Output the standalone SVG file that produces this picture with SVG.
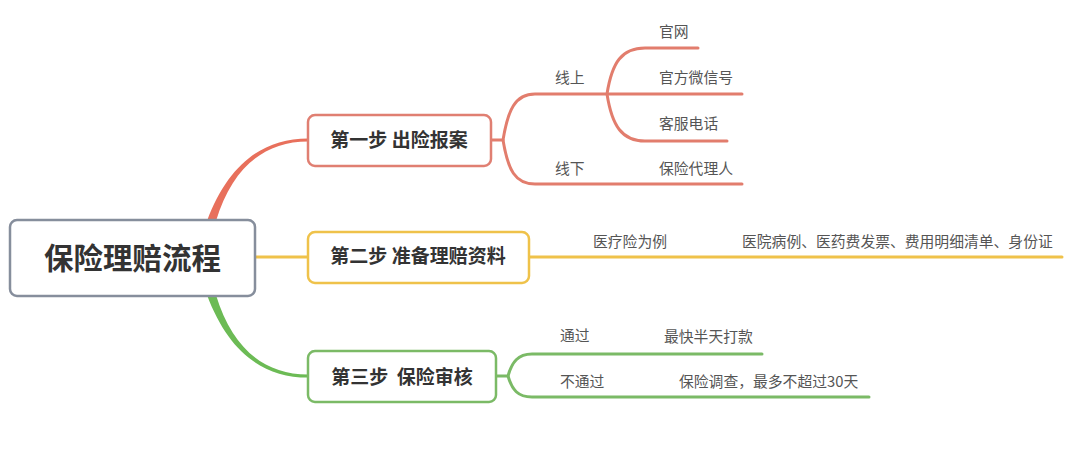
<svg xmlns="http://www.w3.org/2000/svg" width="1080" height="451" viewBox="0 0 1080 451">
<style>
.t{font-family:"Noto Sans CJK SC","Noto Sans",sans-serif;}
.root{font-size:29.5px;font-weight:bold;fill:#333;text-anchor:middle;}
.step{font-size:19px;font-weight:bold;fill:#333;text-anchor:middle;}
.lab{font-size:14.8px;fill:#555;}
.r{stroke:#e27d6d;fill:none;stroke-width:3;stroke-linecap:round;}
.y{stroke:#efc24a;fill:none;stroke-width:3;stroke-linecap:round;}
.g{stroke:#7bba66;fill:none;stroke-width:3;stroke-linecap:round;}
</style>
<rect width="1080" height="451" fill="#ffffff"/>
<g id="connectors">
  <path d="M 207 221 C 228 165, 262 138.5, 308 138.5 L 308 141.5 C 264 141.5, 232 168, 216 221 Z" fill="#e8705c"/>
  <path d="M 207 295 C 228 351, 262 377.5, 308 377.5 L 308 374.5 C 264 374.5, 232 348, 216 295 Z" fill="#6cbb55"/>
  <line x1="255" y1="257" x2="308" y2="257" class="y" stroke-width="4"/>
  <path class="r" d="M 491 140 L 503 140 C 508 110, 515 94, 535 94 L 742 94"/>
  <path class="r" d="M 503 140 C 508 170, 515 184, 535 184 L 742 184"/>
  <path class="r" d="M 607 94 C 612 62, 622 48, 645 48 L 698 48"/>
  <path class="r" d="M 607 94 C 612 126, 622 141, 645 141 L 727 141"/>
  <line x1="529" y1="257" x2="1062" y2="257" class="y"/>
  <path class="g" d="M 496 376 L 508 376 C 512 362, 518 354, 532 354 L 762 354"/>
  <path class="g" d="M 508 376 C 512 390, 518 397, 532 397 L 869 397"/>
</g>
<g id="root">
  <rect x="10" y="220" width="245" height="76" rx="7" fill="#fff" stroke="#868e9c" stroke-width="2.5"/>
  <text class="t root" x="132.5" y="268.5">保险理赔流程</text>
</g>
<g id="step1">
  <rect x="308" y="115" width="183" height="51" rx="7" fill="#fff" stroke="#e07f72" stroke-width="2.5"/>
  <text class="t step" x="399" y="146.5">第一步 出险报案</text>
</g>
<g id="step2">
  <rect x="308" y="232" width="221" height="51" rx="7" fill="#fff" stroke="#efc24a" stroke-width="2.5"/>
  <text class="t step" x="418" y="263">第二步 准备理赔资料</text>
</g>
<g id="step3">
  <rect x="308" y="351" width="188" height="51" rx="7" fill="#fff" stroke="#7bba66" stroke-width="2.5"/>
  <text class="t step" x="402" y="383.5" xml:space="preserve">第三步  保险审核</text>
</g>
<g id="labels">
  <text class="t lab" x="555" y="83">线上</text>
  <text class="t lab" x="555" y="174">线下</text>
  <text class="t lab" x="659" y="37">官网</text>
  <text class="t lab" x="659" y="83">官方微信号</text>
  <text class="t lab" x="659" y="129">客服电话</text>
  <text class="t lab" x="659" y="174">保险代理人</text>
  <text class="t lab" x="593" y="246.5">医疗险为例</text>
  <text class="t lab" x="742" y="246.5">医院病例、医药费发票、费用明细清单、身份证</text>
  <text class="t lab" x="560" y="340.5">通过</text>
  <text class="t lab" x="664" y="341.5">最快半天打款</text>
  <text class="t lab" x="560" y="386.5">不通过</text>
  <text class="t lab" x="679" y="386.5">保险调查，最多不超过30天</text>
</g>
</svg>
